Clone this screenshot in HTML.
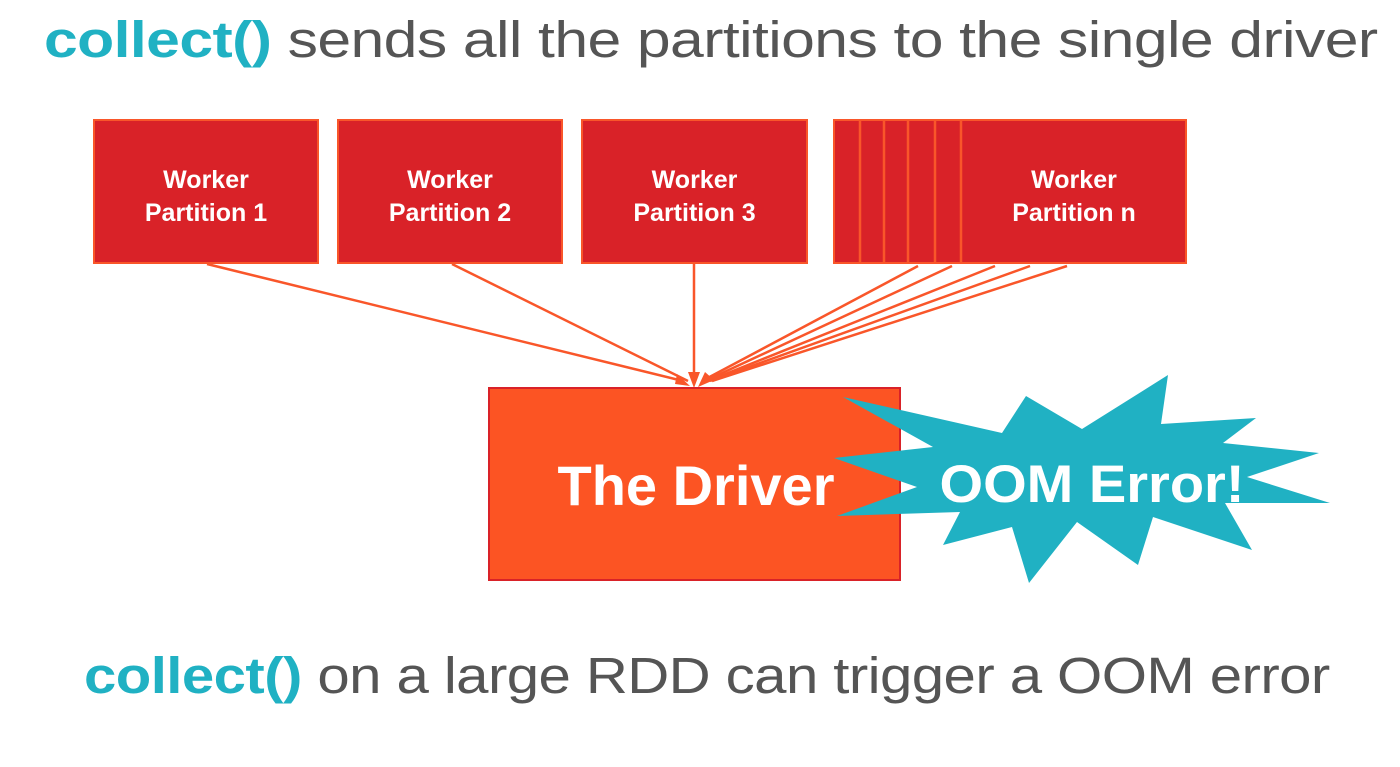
<!DOCTYPE html>
<html><head><style>
body{margin:0;width:1400px;height:767px;background:#fff;overflow:hidden;font-family:"Liberation Sans",sans-serif;position:relative}
.t{position:absolute;white-space:nowrap;color:#555;font-size:51px;letter-spacing:-0.5px;transform-origin:0 0}
.t b{color:#20b1c3}
.box{position:absolute;background:#d92228;border:2px solid #f9562a;box-sizing:border-box;color:#fff;font-weight:bold;font-size:25px;text-align:center;line-height:33px;display:flex;align-items:center;justify-content:center;padding-top:10px}
</style></head><body>
<div class="t" style="left:44px;top:10px;transform:scaleX(1.19)">
<b>collect()</b> sends all the partitions to the single driver</div>
<div class="t" style="left:84px;top:646px;transform:scaleX(1.14)"><b>collect()</b> on a large RDD can trigger a OOM error</div>
<div class="box" style="left:93px;top:119px;width:226px;height:145px">Worker<br>Partition 1</div>
<div class="box" style="left:337px;top:119px;width:226px;height:145px">Worker<br>Partition 2</div>
<div class="box" style="left:581px;top:119px;width:227px;height:145px">Worker<br>Partition 3</div>
<div class="box" style="left:833px;top:119px;width:354px;height:145px;padding-left:128px">Worker<br>Partition n</div>
<svg width="1400" height="767" style="position:absolute;left:0;top:0">
<g stroke="#f9562a" stroke-width="2.5">
<line x1="860" y1="120" x2="860" y2="263"/><line x1="884" y1="120" x2="884" y2="263"/><line x1="908" y1="120" x2="908" y2="263"/><line x1="935" y1="120" x2="935" y2="263"/><line x1="961" y1="120" x2="961" y2="263"/>
<line x1="207" y1="264" x2="683" y2="381"/><line x1="452" y1="264" x2="688" y2="381"/><line x1="694" y1="264" x2="694" y2="381"/>
<line x1="918" y1="266" x2="702" y2="381"/><line x1="952" y1="266" x2="705" y2="381"/><line x1="995" y1="266" x2="708" y2="381"/><line x1="1030" y1="266" x2="710" y2="381"/><line x1="1067" y1="266" x2="712" y2="381"/>
</g>
<g fill="#f9562a"><polygon points="677,374 690,386 675,384"/><polygon points="688,372 694,388 700,372"/><polygon points="705,372 698,387 714,380"/></g>
<rect x="489" y="388" width="411" height="192" fill="#fc5423" stroke="#d92228" stroke-width="2"/>
<text x="696" y="505" fill="#fff" font-size="56" font-weight="bold" text-anchor="middle" font-family="Liberation Sans, sans-serif">The Driver</text>
<polygon fill="#20b1c3" points="843,397 1002,433 1026,396 1082,429 1168,375 1161,424 1256,418 1223,443 1319,453 1247,477 1330,503 1225,503 1252,550 1153,517 1138,565 1077,522 1029,583 1012,527 943,545 960,512 837,516 917,487 834,458 933,447"/>
<text x="1092" y="502" fill="#fff" font-size="53" font-weight="bold" text-anchor="middle" font-family="Liberation Sans, sans-serif" textLength="305" lengthAdjust="spacingAndGlyphs">OOM Error!</text>
</svg>
</body></html>
